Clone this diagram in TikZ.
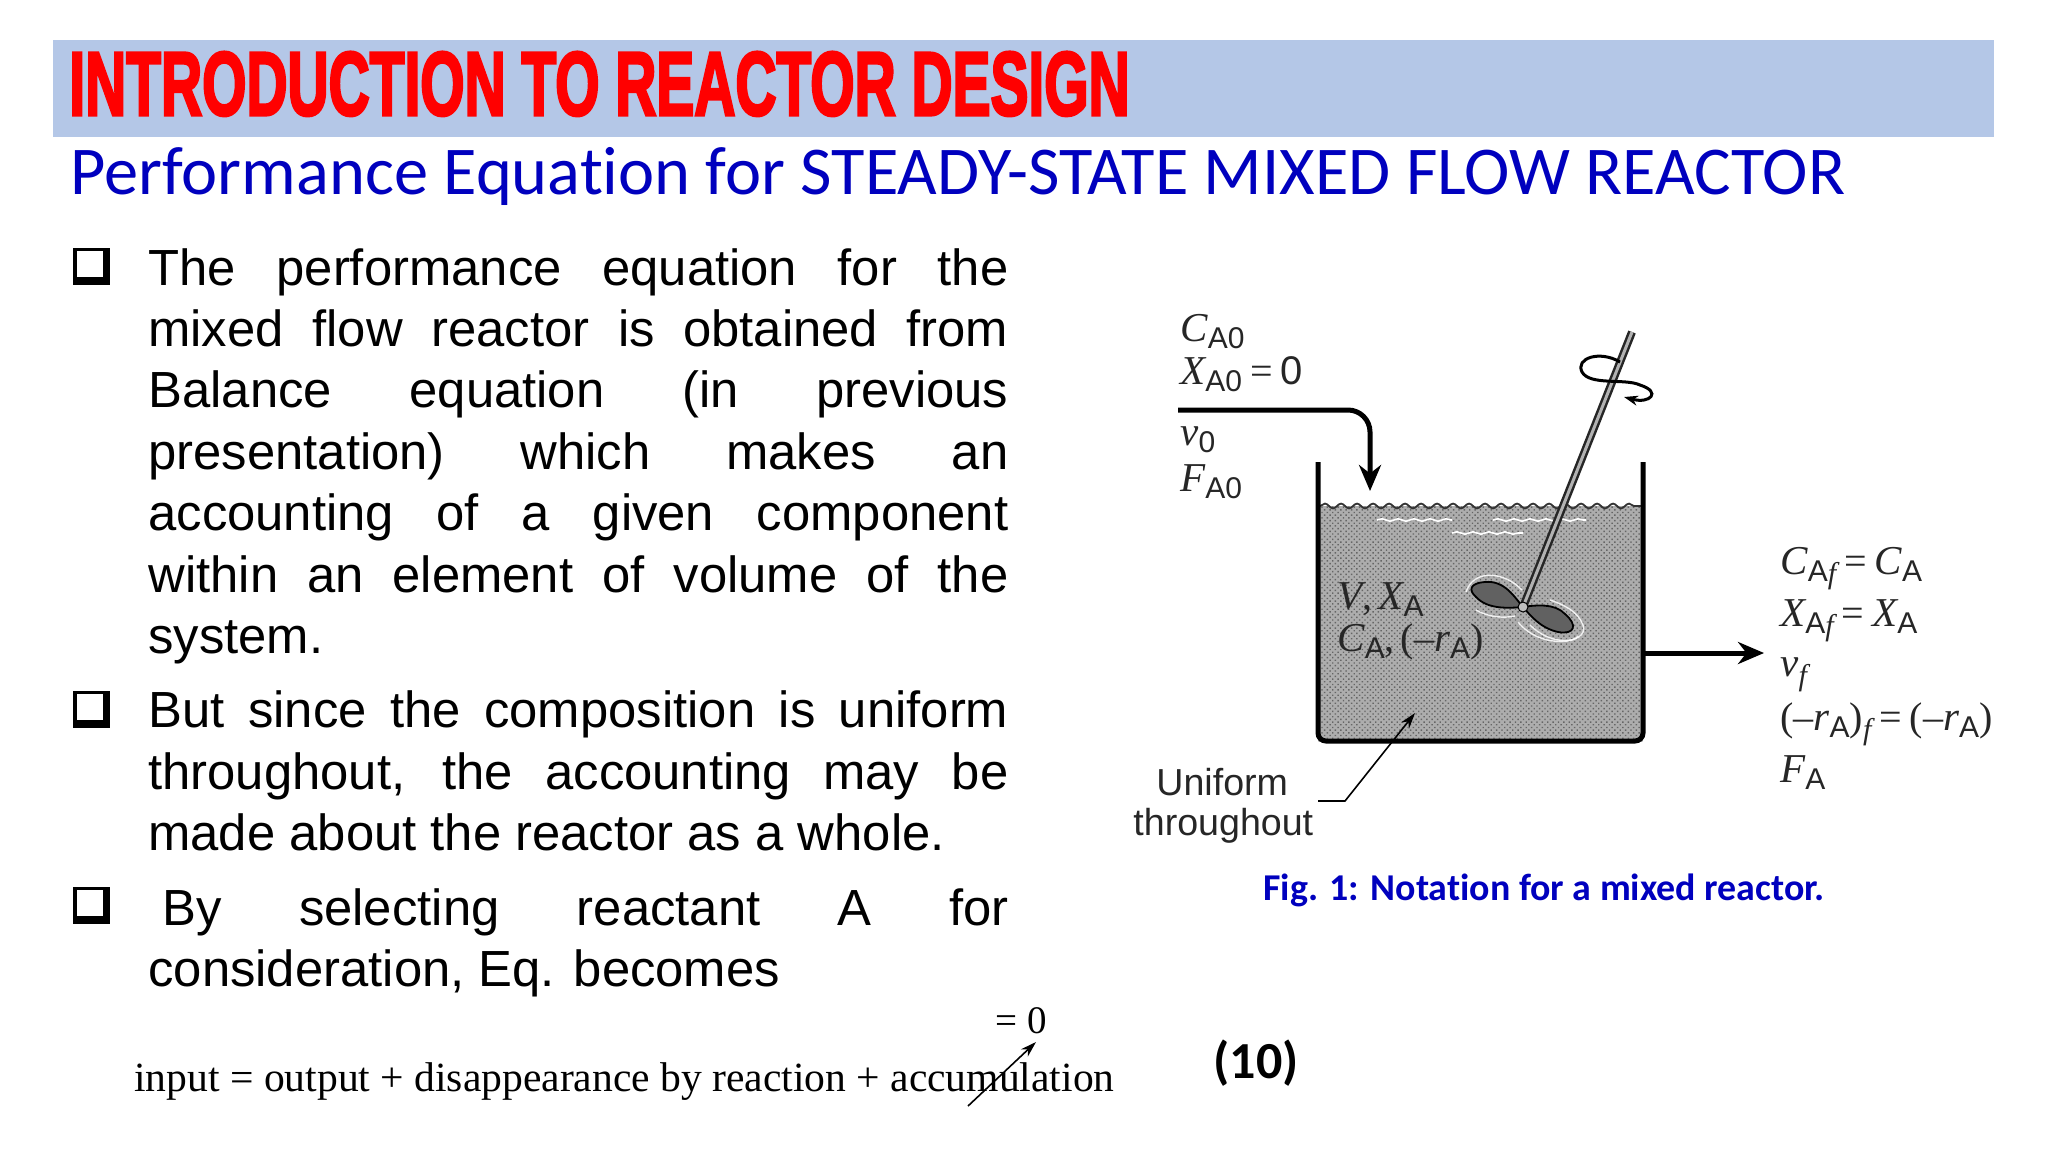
\documentclass[tikz,border=0pt]{standalone}
\usepackage{fontspec}
\usepackage{graphicx}
\setmainfont{Liberation Sans}
\newfontfamily\tmsfont{Liberation Serif}
\newfontfamily\calfont[Ligatures=NoCommon]{Carlito}
\newfontfamily\impfont[FakeBold=3.5]{Liberation Sans}
\usetikzlibrary{decorations.pathmorphing,arrows.meta,patterns.meta}
\definecolor{banner}{HTML}{B4C7E7}
\definecolor{ttlblue}{HTML}{0000BE}
\definecolor{ink}{HTML}{262626}
\newcommand\jline[1]{\hbox to 430pt{#1}}
\newcommand\nline[1]{\hbox{#1}}
\newcommand\subA[1]{\raisebox{-3.8pt}{\fontsize{15}{15}\selectfont #1}}
\newcommand\subF[1]{\raisebox{-4.5pt}{\fontsize{15}{15}\selectfont\tmsfont\itshape #1}}
\newcommand\mItal[1]{{\fontsize{20.5}{20.5}\selectfont\tmsfont\itshape #1}}
\newcommand\mRom[1]{{\fontsize{20}{20}\selectfont\tmsfont #1}}
\newcommand\mEq{\kern4pt\mRom{=}\kern4pt}
\tikzset{
  para/.style={anchor=base west,inner sep=0pt,font=\fontsize{25.4}{30.7}\selectfont,text=black},
  lab/.style={anchor=base west,inner sep=0pt,text=ink},
  bulletbox/.style={fill=black,minimum size=18.5pt,inner sep=0pt},
  bulletin/.style={fill=white,minimum size=13pt,inner sep=0pt},
  flow/.style={draw=black,line width=2.5pt,-{Stealth[length=13pt,width=11pt]}},
  leader/.style={draw=black,line width=0.8pt,-{Stealth[length=8pt,width=5pt]}},
  blade/.style={draw=black,fill=black!62,line width=0.9pt},
  halo/.style={white,line width=.7pt,opacity=.85},
}
\begin{document}
\begin{tikzpicture}[x=.5pt,y=-.5pt]
\useasboundingbox (0,0) rectangle (2048,1152);
\fill[white] (0,0) rectangle (2048,1152);
% banner
\fill[banner] (53,40) rectangle (1994,137);
\node[anchor=base west,inner sep=0pt,text={rgb,255:red,255;green,0;blue,0}] (title) at (69,115)
  {\resizebox{530pt}{31.5pt}{\impfont\bfseries INTRODUCTION TO REACTOR DESIGN}};
\node[anchor=base west,inner sep=0pt,text=ttlblue] (sub) at (70,194)
  {\resizebox{887.5pt}{!}{\calfont\fontsize{30}{30}\selectfont Performance Equation for STEADY-STATE MIXED FLOW REACTOR}};
% body
\node[para] (p1) at (148,653.4) {\vbox{\baselineskip=30.7pt
  \jline{The performance equation for the}
  \jline{mixed flow reactor is obtained from}
  \jline{Balance equation (in previous}
  \jline{presentation) which makes an}
  \jline{accounting of a given component}
  \jline{within an element of volume of the}
  \nline{system.}}};
\node[para] (p2) at (148,850.5) {\vbox{\baselineskip=30.7pt
  \jline{But since the composition is uniform}
  \jline{throughout, the accounting may be}
  \nline{made about the reactor as a whole.}}};
\node[para] (p3) at (148,986.5) {\vbox{\baselineskip=30.7pt
  \jline{\kern7pt By selecting reactant A for}
  \nline{consideration, Eq. becomes}}};
\node[bulletbox] (b1) at (91.5,266) {};
\node[bulletin] (b1i) at ([shift={(-1.5,-2.5)}]b1.center) {};
\node[bulletbox] (b2) at (91.5,709) {};
\node[bulletin] (b2i) at ([shift={(-1.5,-2.5)}]b2.center) {};
\node[bulletbox] (b3) at (91.5,905) {};
\node[bulletin] (b3i) at ([shift={(-1.5,-2.5)}]b3.center) {};
% tank
\fill[black!32] (1318,506) -- (1318,733) arc[start angle=180,end angle=90,radius=8] -- (1635,741) arc[start angle=90,end angle=0,radius=8] -- (1643,506) -- cycle;
\fill[pattern={Dots[distance=1.9pt,radius=.5pt,angle=45]},pattern color=black!60] (1318,506) -- (1318,741) -- (1643,741) -- (1643,506) -- cycle;
\draw[black!80,line width=0.9pt,decorate,decoration={snake,amplitude=1.2pt,segment length=8pt}] (1320,506) -- (1641,506);
\draw[white,line width=0.8pt,decorate,decoration={snake,amplitude=.6pt,segment length=8pt}] (1377,520) -- (1452,520);
\draw[white,line width=0.8pt,decorate,decoration={snake,amplitude=.6pt,segment length=8pt}] (1493,520) -- (1586,520);
\draw[white,line width=0.8pt,decorate,decoration={snake,amplitude=.6pt,segment length=8pt}] (1452,533) -- (1523,533);
\draw[black,line width=2.5pt,rounded corners=4pt] (1318,462) -- (1318,741) -- (1643,741) -- (1643,462);
% impeller halo
\draw[halo] (1466,592) .. controls (1474,568) and (1505,572) .. (1522,590);
\draw[halo] (1476,610) .. controls (1490,618) and (1505,618) .. (1515,616);
\draw[halo] (1518,622) .. controls (1540,650) and (1590,645) .. (1583,625) .. controls (1578,612) and (1565,605) .. (1550,600);
\draw[halo] (1530,625) .. controls (1550,645) and (1575,642) .. (1578,636);
% shaft
\coordinate (shaftTop) at (1632,332);
\coordinate (hub) at (1523,607);
\draw[black!85,line width=4pt] (shaftTop) -- (hub);
\draw[black!30,line width=1.5pt] (shaftTop) -- (hub);
% blades
\draw[blade] (hub) .. controls (1515,598) and (1505,580) .. (1485,582) .. controls (1470,583) and (1468,590) .. (1476,597) .. controls (1488,610) and (1510,608) .. (hub);
\draw[blade] (hub) .. controls (1535,605) and (1555,603) .. (1565,614) .. controls (1578,625) and (1575,635) .. (1558,632) .. controls (1540,628) and (1530,615) .. (hub);
\fill[white!75!black,draw=black,line width=.5pt] (hub) circle[radius=5];
% rotation arrow
\coordinate (rotA) at (1620,362);
\coordinate (rotB) at (1624,397);
\draw[black,line width=1.5pt,-{Stealth[length=7pt,width=5pt]}] (rotA) .. controls (1600,350) and (1575,358) .. (1582,372) .. controls (1590,386) and (1625,378) .. (1640,385) .. controls (1662,392) and (1650,404) .. (rotB);
% flows
\coordinate (inStart) at (1178,410);
\coordinate (inCorner) at (1370,410);
\coordinate (inEnd) at (1370,491);
\draw[flow,rounded corners=11pt] (inStart) -- (inCorner) -- (inEnd);
\coordinate (outStart) at (1643,653);
\coordinate (outEnd) at (1764,653);
\draw[flow] (outStart) -- (outEnd);
% leader
\coordinate (ldStart) at (1318,801);
\coordinate (ldKnee) at (1345,801);
\coordinate (ldEnd) at (1415,713);
\draw[leader] (ldStart) -- (ldKnee) -- (ldEnd);
% inlet labels
\node[lab] (c0) at (1180,341) {\mItal{C}\subA{A0}};
\node[lab] (x0) at (1180,384) {\mItal{X}\subA{A0}\mEq{\fontsize{20}{20}\selectfont 0}};
\node[lab] (v0) at (1180,445) {\mItal{v}\subA{0}};
\node[lab] (f0) at (1180,491) {\mItal{F}\subA{A0}};
% tank labels
\node[lab] (vx) at (1337,609) {\mItal{V}\mRom{,}\kern3pt\mItal{X}\subA{A}};
\node[lab] (cr) at (1337,651) {\mItal{C}\subA{A}\mRom{,}\kern3pt\mRom{(}\mRom{–}\mItal{r}\subA{A}\mRom{)}};
% outlet labels
\node[lab] (cf) at (1780,574) {\mItal{C}\subA{A}\subF{f}\mEq\mItal{C}\subA{A}};
\node[lab] (xf) at (1780,626) {\mItal{X}\subA{A}\subF{f}\mEq\mItal{X}\subA{A}};
\node[lab] (vf) at (1780,676) {\mItal{v}\subF{f}};
\node[lab] (rf) at (1780,730) {\mRom{(}\mRom{–}\mItal{r}\subA{A}\mRom{)}\subF{f}\mEq\mRom{(}\mRom{–}\mItal{r}\subA{A}\mRom{)}};
\node[lab] (fa) at (1780,782) {\mItal{F}\subA{A}};
% uniform
\node[lab,font=\fontsize{18.8}{18.8}\selectfont] (uni) at (1156,795) {Uniform};
\node[lab,font=\fontsize{18.8}{18.8}\selectfont] (thr) at (1133,835) {throughout};
% caption
\node[anchor=base west,inner sep=0pt,text=ttlblue] (cap) at (1263,900)
  {\resizebox{280.7pt}{!}{\calfont\bfseries\fontsize{18}{18}\selectfont Fig. 1: Notation for a mixed reactor.}};
\node[anchor=base west,inner sep=0pt,text=black] (eqno) at (1213,1078)
  {\calfont\bfseries\fontsize{26}{26}\selectfont (10)};
% equation
\node[anchor=base west,inner sep=0pt,text=black] (eq) at (134,1091)
  {\resizebox{490pt}{!}{\tmsfont\fontsize{22}{22}\selectfont input = output + disappearance by reaction + accumulation}};
\node[anchor=base west,inner sep=0pt,text=black] (zero) at (995,1033)
  {\tmsfont\fontsize{19.5}{19.5}\selectfont = 0};
\coordinate (stA) at (968,1106);
\coordinate (stB) at (1036,1042);
\draw[leader] (stA) -- (stB);
\end{tikzpicture}
\end{document}
